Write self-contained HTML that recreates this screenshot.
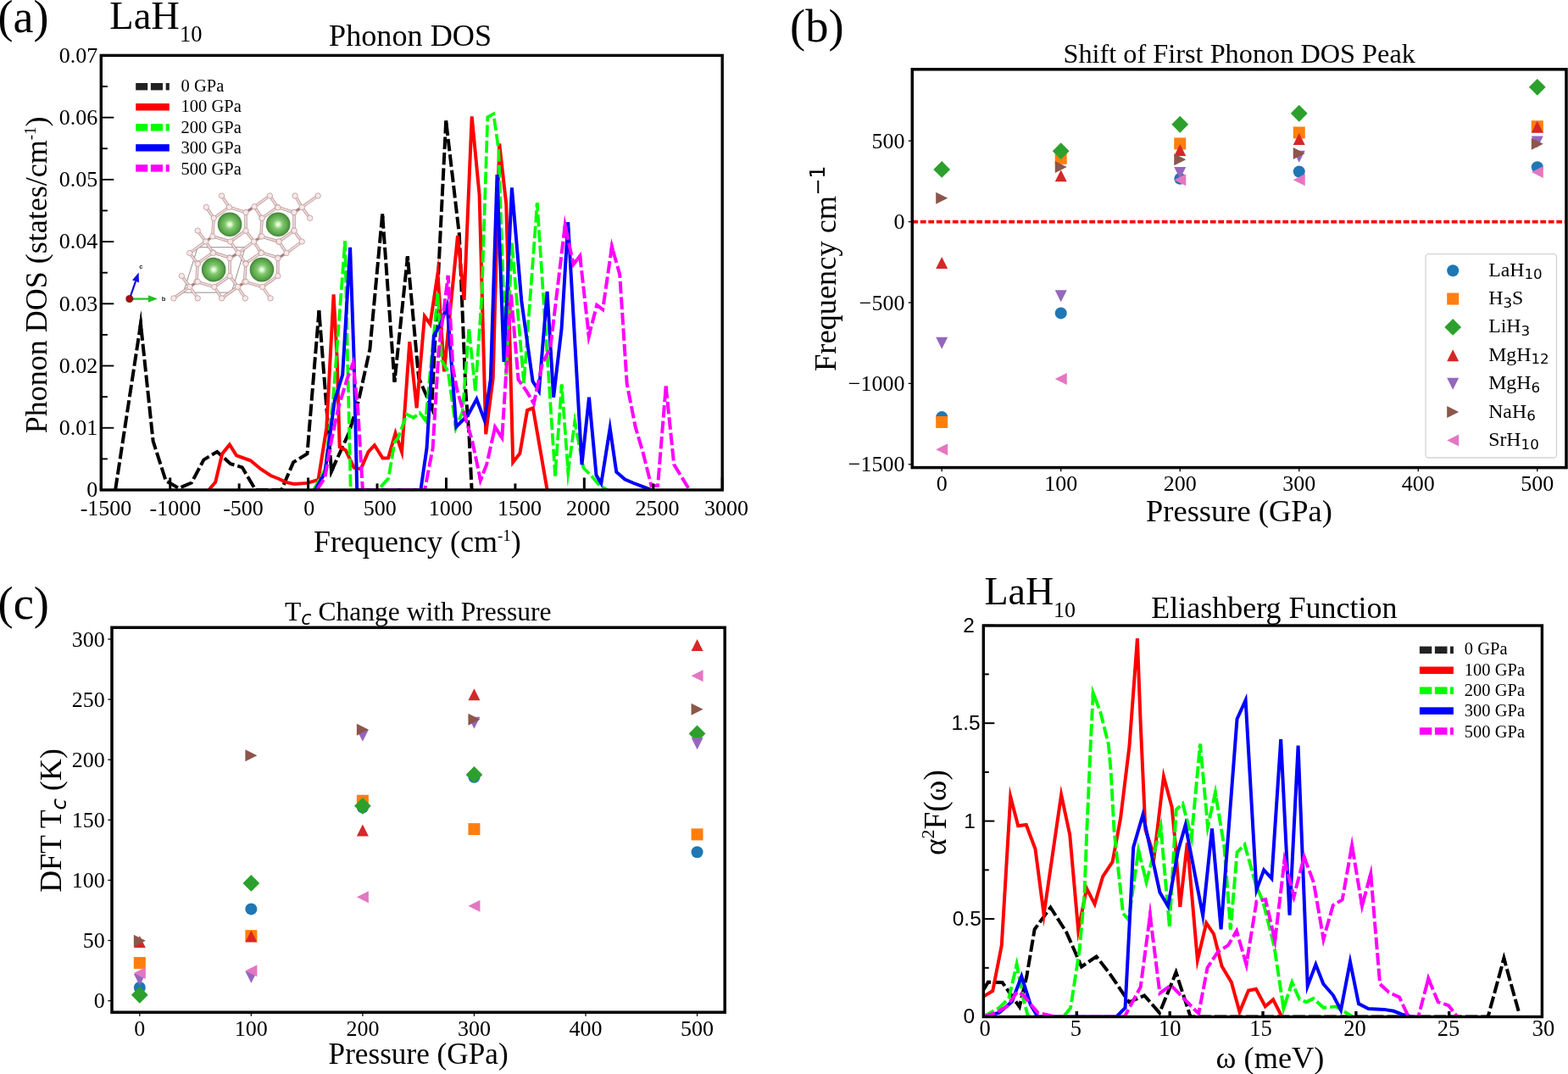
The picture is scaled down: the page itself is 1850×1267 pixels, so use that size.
<!DOCTYPE html>
<html><head><meta charset="utf-8"><title>LaH10 phonon figure</title>
<style>html,body{margin:0;padding:0;background:#fff;overflow:hidden}svg{display:block}</style>
</head><body>
<svg width="1850" height="1267" viewBox="0 0 1850 1267">
<rect x="0" y="0" width="1850" height="1267" fill="#fff"/>
<g id="panel-a">
<clipPath id="clipA"><rect x="119.3" y="45.4" width="732.9" height="532.6"/></clipPath>
<g clip-path="url(#clipA)">
<polyline points="136.1,578 166.02,382.06 180.61,520.4 195.83,567.59 203.3,571.5 210.92,575.94 225.92,569.51 240.45,542.35 256.15,532.92 272.03,547.15 285.71,551.32 301.5,578 332.1,578 346.08,545.37 362.49,535.27 376.4,366.5 391.09,555.83 411.8,510.4 423.1,472.5 436.4,411.9 451.2,252.5 465.5,450.6 480.9,302.5 494.02,445.9 509.35,480.93 526.2,142.3 541.9,277 549.5,463 553.3,510 556.6,578" fill="none" stroke="#000" stroke-width="4" stroke-linejoin="miter" stroke-miterlimit="10" stroke-dasharray="14.5 4" />
<polyline points="165.27,387 166.02,382.06 166.55,387.03" fill="none" stroke="#000" stroke-width="4" stroke-linejoin="miter" stroke-miterlimit="10"/>
<polyline points="375.99,371.48 376.4,366.5 376.79,371.49" fill="none" stroke="#000" stroke-width="4" stroke-linejoin="miter" stroke-miterlimit="10"/>
<polyline points="390.7,550.85 391.09,555.83 393.16,551.28" fill="none" stroke="#000" stroke-width="4" stroke-linejoin="miter" stroke-miterlimit="10"/>
<polyline points="450.74,257.48 451.2,252.5 451.56,257.49" fill="none" stroke="#000" stroke-width="4" stroke-linejoin="miter" stroke-miterlimit="10"/>
<polyline points="465.14,445.61 465.5,450.6 466.02,445.63" fill="none" stroke="#000" stroke-width="4" stroke-linejoin="miter" stroke-miterlimit="10"/>
<polyline points="480.38,307.47 480.9,302.5 481.36,307.48" fill="none" stroke="#000" stroke-width="4" stroke-linejoin="miter" stroke-miterlimit="10"/>
<polyline points="507.35,476.35 509.35,480.93 509.6,475.94" fill="none" stroke="#000" stroke-width="4" stroke-linejoin="miter" stroke-miterlimit="10"/>
<polyline points="525.95,147.29 526.2,142.3 526.78,147.27" fill="none" stroke="#000" stroke-width="4" stroke-linejoin="miter" stroke-miterlimit="10"/>
<polyline points="246.3,578 254.15,568.87 262.13,535.41 270.89,524.43 278.99,537.29 295.58,543.33 307.5,553.2 319.3,560.99 329.2,565 337.11,568.88 346.9,570.88 362.7,569.89 375.52,565.95 385.3,504.7 393.6,347.3 397.6,421.4 400.68,527.22 407.91,531.28 417.65,551.82 425.71,553.35 434.52,533.11 441.86,525.23 451.47,540.42 458.04,540.26 466.57,510.84 474.08,533.08 483.3,403.2 491.6,481.4 500.94,373.1 507.48,382.28 516.5,322.5 524,438.4 540,278 547.6,353.8 556.7,137.4 565.6,229.8 573.2,512.2 581.7,446 589.2,169.6 597.3,241.1 605.22,545.32 613.36,534.99 622.09,484.04 628.87,481.25 645.6,578" fill="none" stroke="#ff0000" stroke-width="4" stroke-linejoin="miter" stroke-miterlimit="10" />
<polyline points="370.1,578 383.37,553.89 392.9,472.5 407.1,284.3 409.9,415.7 413.7,578 445.9,578 458.33,564.36 465.56,521.72 469.98,515.99 479.89,488.74 487.95,492.76 495.38,487.09 502.17,495.99 516.5,346.4 521.15,425.19 528.66,438.41 537.88,504.67 545.69,485.8 553.3,388.3 560.9,461.1 568.4,350 575.31,138.12 582.3,134.38 588.3,176.8 597.3,442.2 603.9,286.6 618.1,451.7 633.8,239.3 655,561.5 662.7,453.6 670.3,556.2 678.2,498.04 688.39,551.96 697.9,561.5 707.32,572.77 716.8,578" fill="none" stroke="#00ff00" stroke-width="3.7" stroke-linejoin="miter" stroke-miterlimit="10" stroke-dasharray="14.5 4" />
<polyline points="406.72,289.29 407.1,284.3 407.21,289.3" fill="none" stroke="#00ff00" stroke-width="3.7" stroke-linejoin="miter" stroke-miterlimit="10"/>
<polyline points="499.14,492.02 502.17,495.99 502.65,491.02" fill="none" stroke="#00ff00" stroke-width="3.7" stroke-linejoin="miter" stroke-miterlimit="10"/>
<polyline points="516.02,351.38 516.5,346.4 516.79,351.39" fill="none" stroke="#00ff00" stroke-width="3.7" stroke-linejoin="miter" stroke-miterlimit="10"/>
<polyline points="537.2,499.71 537.88,504.67 539.8,500.05" fill="none" stroke="#00ff00" stroke-width="3.7" stroke-linejoin="miter" stroke-miterlimit="10"/>
<polyline points="552.91,393.28 553.3,388.3 553.82,393.27" fill="none" stroke="#00ff00" stroke-width="3.7" stroke-linejoin="miter" stroke-miterlimit="10"/>
<polyline points="560.38,456.13 560.9,461.1 561.24,456.11" fill="none" stroke="#00ff00" stroke-width="3.7" stroke-linejoin="miter" stroke-miterlimit="10"/>
<polyline points="597.13,437.2 597.3,442.2 597.51,437.2" fill="none" stroke="#00ff00" stroke-width="3.7" stroke-linejoin="miter" stroke-miterlimit="10"/>
<polyline points="603.69,291.6 603.9,286.6 604.33,291.58" fill="none" stroke="#00ff00" stroke-width="3.7" stroke-linejoin="miter" stroke-miterlimit="10"/>
<polyline points="617.67,446.72 618.1,451.7 618.47,446.71" fill="none" stroke="#00ff00" stroke-width="3.7" stroke-linejoin="miter" stroke-miterlimit="10"/>
<polyline points="633.43,244.29 633.8,239.3 634.13,244.29" fill="none" stroke="#00ff00" stroke-width="3.7" stroke-linejoin="miter" stroke-miterlimit="10"/>
<polyline points="654.67,556.51 655,561.5 655.36,556.51" fill="none" stroke="#00ff00" stroke-width="3.7" stroke-linejoin="miter" stroke-miterlimit="10"/>
<polyline points="662.34,458.59 662.7,453.6 663.07,458.59" fill="none" stroke="#00ff00" stroke-width="3.7" stroke-linejoin="miter" stroke-miterlimit="10"/>
<polyline points="669.93,551.21 670.3,556.2 670.97,551.25" fill="none" stroke="#00ff00" stroke-width="3.7" stroke-linejoin="miter" stroke-miterlimit="10"/>
<polyline points="677.52,502.99 678.2,498.04 679.12,502.95" fill="none" stroke="#00ff00" stroke-width="3.7" stroke-linejoin="miter" stroke-miterlimit="10"/>
<polyline points="372,578 383.37,557.69 394.81,472.5 404.19,442.2 413.1,291.9 417.5,419.5 421.2,578 496.4,578 503.5,528.8 511.85,396.12 519.98,381.89 527.59,360.48 538.28,503.51 552.28,489.49 562.33,470.82 571.61,495.59 578.8,447.9 586.5,206.1 594.5,427 603.9,221.3 615.3,355 628.53,449.79 635.91,461.32 645.6,343.8 653.1,468.7 662.6,387.3 670.2,262 686.5,548.2 695,468.7 703.52,560.49 709.33,570.23 719.7,505.06 727.24,556.83 737.31,565.48 747.7,570 768.7,578" fill="none" stroke="#0000ff" stroke-width="4" stroke-linejoin="miter" stroke-miterlimit="10" />
<polyline points="373.9,578 383.36,563.38 391,519.8 399.5,480 409.9,446 416.55,428.8 422.2,482 427.9,578 501.1,578 510.6,528.8 517.7,412.7 528.7,325 534.41,434.6 540,463 547.6,487.6 557.1,519.8 566.9,566.31 574.1,548.2 584.09,504.05 592.32,516.46 603,347.6 611.57,447.87 620.99,461.1 629.81,475.74 639.92,429.01 649.37,409.99 666.66,265.55 676.61,311.8 684.25,302 694.78,396.14 704.2,359.92 711.18,365.07 721.92,291.04 731.19,323.6 739.7,452.8 749.7,503.8 758.2,532.2 768.44,572.97 776.11,572.87 785.7,455.6 795.15,547.78 813.5,578" fill="none" stroke="#ff00ff" stroke-width="4" stroke-linejoin="miter" stroke-miterlimit="10" stroke-dasharray="14.5 4" />
<polyline points="414.74,433.46 416.55,428.8 417.08,433.77" fill="none" stroke="#ff00ff" stroke-width="4" stroke-linejoin="miter" stroke-miterlimit="10"/>
<polyline points="528.08,329.96 528.7,325 528.96,329.99" fill="none" stroke="#ff00ff" stroke-width="4" stroke-linejoin="miter" stroke-miterlimit="10"/>
<polyline points="565.87,561.42 566.9,566.31 568.75,561.67" fill="none" stroke="#ff00ff" stroke-width="4" stroke-linejoin="miter" stroke-miterlimit="10"/>
<polyline points="582.98,508.93 584.09,504.05 586.85,508.22" fill="none" stroke="#ff00ff" stroke-width="4" stroke-linejoin="miter" stroke-miterlimit="10"/>
<polyline points="589.55,512.29 592.32,516.46 592.63,511.47" fill="none" stroke="#ff00ff" stroke-width="4" stroke-linejoin="miter" stroke-miterlimit="10"/>
<polyline points="602.68,352.59 603,347.6 603.43,352.58" fill="none" stroke="#ff00ff" stroke-width="4" stroke-linejoin="miter" stroke-miterlimit="10"/>
<polyline points="627.23,471.45 629.81,475.74 630.86,470.85" fill="none" stroke="#ff00ff" stroke-width="4" stroke-linejoin="miter" stroke-miterlimit="10"/>
<polyline points="666.07,270.52 666.66,265.55 667.71,270.44" fill="none" stroke="#ff00ff" stroke-width="4" stroke-linejoin="miter" stroke-miterlimit="10"/>
<polyline points="681.18,305.94 684.25,302 684.81,306.97" fill="none" stroke="#ff00ff" stroke-width="4" stroke-linejoin="miter" stroke-miterlimit="10"/>
<polyline points="694.23,391.17 694.78,396.14 696.04,391.3" fill="none" stroke="#ff00ff" stroke-width="4" stroke-linejoin="miter" stroke-miterlimit="10"/>
<polyline points="721.2,295.99 721.92,291.04 723.29,295.85" fill="none" stroke="#ff00ff" stroke-width="4" stroke-linejoin="miter" stroke-miterlimit="10"/>
<polyline points="785.29,460.58 785.7,455.6 786.21,460.57" fill="none" stroke="#ff00ff" stroke-width="4" stroke-linejoin="miter" stroke-miterlimit="10"/>
</g>
<line x1="119.3" y1="578" x2="134.3" y2="578" stroke="#000" stroke-width="1.9" />
<line x1="119.3" y1="541.39" x2="126.9" y2="541.39" stroke="#000" stroke-width="1.9" />
<line x1="119.3" y1="504.77" x2="134.3" y2="504.77" stroke="#000" stroke-width="1.9" />
<line x1="119.3" y1="468.16" x2="126.9" y2="468.16" stroke="#000" stroke-width="1.9" />
<line x1="119.3" y1="431.54" x2="134.3" y2="431.54" stroke="#000" stroke-width="1.9" />
<line x1="119.3" y1="394.93" x2="126.9" y2="394.93" stroke="#000" stroke-width="1.9" />
<line x1="119.3" y1="358.31" x2="134.3" y2="358.31" stroke="#000" stroke-width="1.9" />
<line x1="119.3" y1="321.7" x2="126.9" y2="321.7" stroke="#000" stroke-width="1.9" />
<line x1="119.3" y1="285.09" x2="134.3" y2="285.09" stroke="#000" stroke-width="1.9" />
<line x1="119.3" y1="248.47" x2="126.9" y2="248.47" stroke="#000" stroke-width="1.9" />
<line x1="119.3" y1="211.86" x2="134.3" y2="211.86" stroke="#000" stroke-width="1.9" />
<line x1="119.3" y1="175.24" x2="126.9" y2="175.24" stroke="#000" stroke-width="1.9" />
<line x1="119.3" y1="138.63" x2="134.3" y2="138.63" stroke="#000" stroke-width="1.9" />
<line x1="119.3" y1="102.01" x2="126.9" y2="102.01" stroke="#000" stroke-width="1.9" />
<line x1="119.3" y1="65.4" x2="134.3" y2="65.4" stroke="#000" stroke-width="1.9" />
<line x1="119.3" y1="578" x2="119.3" y2="570.4" stroke="#000" stroke-width="3" />
<line x1="200.73" y1="578" x2="200.73" y2="563.5" stroke="#000" stroke-width="3" />
<line x1="282.17" y1="578" x2="282.17" y2="570.4" stroke="#000" stroke-width="3" />
<line x1="363.6" y1="578" x2="363.6" y2="563.5" stroke="#000" stroke-width="3" />
<line x1="445.03" y1="578" x2="445.03" y2="570.4" stroke="#000" stroke-width="3" />
<line x1="526.47" y1="578" x2="526.47" y2="563.5" stroke="#000" stroke-width="3" />
<line x1="607.9" y1="578" x2="607.9" y2="570.4" stroke="#000" stroke-width="3" />
<line x1="689.33" y1="578" x2="689.33" y2="563.5" stroke="#000" stroke-width="3" />
<line x1="770.77" y1="578" x2="770.77" y2="570.4" stroke="#000" stroke-width="3" />
<line x1="852.2" y1="578" x2="852.2" y2="563.5" stroke="#000" stroke-width="3" />
<rect x="119.3" y="65.4" width="732.9" height="512.6" fill="none" stroke="#000" stroke-width="3.4" />
<text x="115.2" y="586.4" font-size="26" font-family="'Liberation Serif', 'Times New Roman', serif" text-anchor="end" >0</text>
<text x="115.2" y="513.17" font-size="26" font-family="'Liberation Serif', 'Times New Roman', serif" text-anchor="end" >0.01</text>
<text x="115.2" y="439.94" font-size="26" font-family="'Liberation Serif', 'Times New Roman', serif" text-anchor="end" >0.02</text>
<text x="115.2" y="366.71" font-size="26" font-family="'Liberation Serif', 'Times New Roman', serif" text-anchor="end" >0.03</text>
<text x="115.2" y="293.49" font-size="26" font-family="'Liberation Serif', 'Times New Roman', serif" text-anchor="end" >0.04</text>
<text x="115.2" y="220.26" font-size="26" font-family="'Liberation Serif', 'Times New Roman', serif" text-anchor="end" >0.05</text>
<text x="115.2" y="147.03" font-size="26" font-family="'Liberation Serif', 'Times New Roman', serif" text-anchor="end" >0.06</text>
<text x="115.2" y="73.8" font-size="26" font-family="'Liberation Serif', 'Times New Roman', serif" text-anchor="end" >0.07</text>
<text x="125" y="607.6" font-size="26" font-family="'Liberation Serif', 'Times New Roman', serif" text-anchor="middle" >-1500</text>
<text x="206.93" y="607.6" font-size="26" font-family="'Liberation Serif', 'Times New Roman', serif" text-anchor="middle" >-1000</text>
<text x="286.97" y="607.6" font-size="26" font-family="'Liberation Serif', 'Times New Roman', serif" text-anchor="middle" >-500</text>
<text x="364.8" y="607.6" font-size="26" font-family="'Liberation Serif', 'Times New Roman', serif" text-anchor="middle" >0</text>
<text x="448.23" y="607.6" font-size="26" font-family="'Liberation Serif', 'Times New Roman', serif" text-anchor="middle" >500</text>
<text x="531.67" y="607.6" font-size="26" font-family="'Liberation Serif', 'Times New Roman', serif" text-anchor="middle" >1000</text>
<text x="613.1" y="607.6" font-size="26" font-family="'Liberation Serif', 'Times New Roman', serif" text-anchor="middle" >1500</text>
<text x="694.03" y="607.6" font-size="26" font-family="'Liberation Serif', 'Times New Roman', serif" text-anchor="middle" >2000</text>
<text x="775.47" y="607.6" font-size="26" font-family="'Liberation Serif', 'Times New Roman', serif" text-anchor="middle" >2500</text>
<text x="856.9" y="607.6" font-size="26" font-family="'Liberation Serif', 'Times New Roman', serif" text-anchor="middle" >3000</text>
<text x="370" y="650.6" font-size="36" font-family="'Liberation Serif', 'Times New Roman', serif" text-anchor="start" >Frequency (cm<tspan dy="-13" font-size="19">-1</tspan><tspan dy="13">)</tspan></text>
<text x="54.7" y="324.4" font-size="36" font-family="'Liberation Serif', 'Times New Roman', serif" text-anchor="middle" transform="rotate(-90 54.7 324.4)">Phonon DOS (states/cm<tspan dy="-13" font-size="19">-1</tspan><tspan dy="13">)</tspan></text>
<text x="-2.5" y="37.8" font-size="54" font-family="'Liberation Serif', 'Times New Roman', serif" text-anchor="start" >(a)</text>
<text x="129.3" y="33.7" font-size="46.5" font-family="'Liberation Serif', 'Times New Roman', serif" text-anchor="start" >LaH</text>
<text x="212" y="48.6" font-size="26.5" font-family="'Liberation Serif', 'Times New Roman', serif" text-anchor="start" >10</text>
<text x="388" y="53.5" font-size="36.2" font-family="'Liberation Serif', 'Times New Roman', serif" text-anchor="start" >Phonon DOS</text>
<rect x="160.2" y="98" width="14" height="8.4" fill="#222"/>
<rect x="177.9" y="98" width="14.1" height="8.4" fill="#222"/>
<rect x="195.7" y="98" width="4.1" height="8.4" fill="#222"/>
<text x="213.6" y="107.9" font-size="20.5" font-family="'Liberation Serif', 'Times New Roman', serif" text-anchor="start" >0 GPa</text>
<rect x="160.2" y="122.05" width="39.6" height="8.4" fill="#ff0000"/>
<text x="213.6" y="132.3" font-size="20.5" font-family="'Liberation Serif', 'Times New Roman', serif" text-anchor="start" >100 GPa</text>
<rect x="160.2" y="146.1" width="14" height="8.4" fill="#00ff00"/>
<rect x="177.9" y="146.1" width="14.1" height="8.4" fill="#00ff00"/>
<rect x="195.7" y="146.1" width="4.1" height="8.4" fill="#00ff00"/>
<text x="213.6" y="156.7" font-size="20.5" font-family="'Liberation Serif', 'Times New Roman', serif" text-anchor="start" >200 GPa</text>
<rect x="160.2" y="170.15" width="39.6" height="8.4" fill="#0000ff"/>
<text x="213.6" y="181.1" font-size="20.5" font-family="'Liberation Serif', 'Times New Roman', serif" text-anchor="start" >300 GPa</text>
<rect x="160.2" y="194.2" width="14" height="8.4" fill="#ff00ff"/>
<rect x="177.9" y="194.2" width="14.1" height="8.4" fill="#ff00ff"/>
<rect x="195.7" y="194.2" width="4.1" height="8.4" fill="#ff00ff"/>
<text x="213.6" y="205.5" font-size="20.5" font-family="'Liberation Serif', 'Times New Roman', serif" text-anchor="start" >500 GPa</text>
</g>
<defs><radialGradient id="lag" cx="0.5" cy="0.5" r="0.55" fx="0.5" fy="0.5"><stop offset="0" stop-color="#ffffff"/><stop offset="0.13" stop-color="#d6f5c8"/><stop offset="0.35" stop-color="#82c870"/><stop offset="0.75" stop-color="#56a046"/><stop offset="1" stop-color="#33702b"/></radialGradient></defs>
<g id="inset">
<polygon points="233.24,291.76 289.32,291.76 273.11,345.14 216.35,345.14" fill="none" stroke="#707070" stroke-width="0.8"/>
<line x1="252.16" y1="257.3" x2="270.41" y2="244.46" stroke="#b89696" stroke-width="3.4" />
<line x1="270.41" y1="244.46" x2="290" y2="250.54" stroke="#b89696" stroke-width="3.4" />
<line x1="290" y1="250.54" x2="290" y2="272.16" stroke="#b89696" stroke-width="3.4" />
<line x1="290" y1="272.16" x2="271.76" y2="285" stroke="#b89696" stroke-width="3.4" />
<line x1="271.76" y1="285" x2="250.81" y2="278.92" stroke="#b89696" stroke-width="3.4" />
<line x1="250.81" y1="278.92" x2="252.16" y2="257.3" stroke="#b89696" stroke-width="3.4" />
<line x1="309.19" y1="257.3" x2="327.43" y2="244.46" stroke="#b89696" stroke-width="3.4" />
<line x1="327.43" y1="244.46" x2="347.03" y2="250.54" stroke="#b89696" stroke-width="3.4" />
<line x1="347.03" y1="250.54" x2="347.03" y2="272.16" stroke="#b89696" stroke-width="3.4" />
<line x1="347.03" y1="272.16" x2="328.78" y2="285" stroke="#b89696" stroke-width="3.4" />
<line x1="328.78" y1="285" x2="307.84" y2="278.92" stroke="#b89696" stroke-width="3.4" />
<line x1="307.84" y1="278.92" x2="309.19" y2="257.3" stroke="#b89696" stroke-width="3.4" />
<line x1="233.24" y1="310.68" x2="251.49" y2="297.84" stroke="#b89696" stroke-width="3.4" />
<line x1="251.49" y1="297.84" x2="271.08" y2="303.92" stroke="#b89696" stroke-width="3.4" />
<line x1="271.08" y1="303.92" x2="271.08" y2="325.54" stroke="#b89696" stroke-width="3.4" />
<line x1="271.08" y1="325.54" x2="252.84" y2="338.38" stroke="#b89696" stroke-width="3.4" />
<line x1="252.84" y1="338.38" x2="231.89" y2="332.3" stroke="#b89696" stroke-width="3.4" />
<line x1="231.89" y1="332.3" x2="233.24" y2="310.68" stroke="#b89696" stroke-width="3.4" />
<line x1="290" y1="310.68" x2="308.24" y2="297.84" stroke="#b89696" stroke-width="3.4" />
<line x1="308.24" y1="297.84" x2="327.84" y2="303.92" stroke="#b89696" stroke-width="3.4" />
<line x1="327.84" y1="303.92" x2="327.84" y2="325.54" stroke="#b89696" stroke-width="3.4" />
<line x1="327.84" y1="325.54" x2="309.59" y2="338.38" stroke="#b89696" stroke-width="3.4" />
<line x1="309.59" y1="338.38" x2="288.65" y2="332.3" stroke="#b89696" stroke-width="3.4" />
<line x1="288.65" y1="332.3" x2="290" y2="310.68" stroke="#b89696" stroke-width="3.4" />
<line x1="261.62" y1="230.95" x2="270.41" y2="244.46" stroke="#b89696" stroke-width="3.4" />
<line x1="243.38" y1="244.46" x2="252.16" y2="257.3" stroke="#b89696" stroke-width="3.4" />
<line x1="290" y1="250.54" x2="300.14" y2="243.78" stroke="#b89696" stroke-width="3.4" />
<line x1="300.14" y1="243.78" x2="318.38" y2="230.95" stroke="#b89696" stroke-width="3.4" />
<line x1="300.14" y1="243.78" x2="308.92" y2="257.3" stroke="#b89696" stroke-width="3.4" />
<line x1="318.38" y1="230.95" x2="327.84" y2="244.86" stroke="#b89696" stroke-width="3.4" />
<line x1="346.76" y1="250.54" x2="356.22" y2="244.46" stroke="#b89696" stroke-width="3.4" />
<line x1="356.22" y1="244.46" x2="348.11" y2="230.95" stroke="#b89696" stroke-width="3.4" />
<line x1="356.22" y1="244.46" x2="375.14" y2="230.95" stroke="#b89696" stroke-width="3.4" />
<line x1="356.22" y1="244.46" x2="365.68" y2="257.3" stroke="#b89696" stroke-width="3.4" />
<line x1="233.24" y1="272.16" x2="242.7" y2="285" stroke="#b89696" stroke-width="3.4" />
<line x1="250.81" y1="278.92" x2="242.7" y2="285" stroke="#b89696" stroke-width="3.4" />
<line x1="242.7" y1="285" x2="223.78" y2="298.51" stroke="#b89696" stroke-width="3.4" />
<line x1="242.7" y1="285" x2="251.49" y2="298.51" stroke="#b89696" stroke-width="3.4" />
<line x1="271.76" y1="285" x2="281.22" y2="298.51" stroke="#b89696" stroke-width="3.4" />
<line x1="290" y1="272.16" x2="299.46" y2="285" stroke="#b89696" stroke-width="3.4" />
<line x1="308.92" y1="278.92" x2="299.46" y2="285" stroke="#b89696" stroke-width="3.4" />
<line x1="299.46" y1="285" x2="281.22" y2="298.51" stroke="#b89696" stroke-width="3.4" />
<line x1="299.46" y1="285" x2="308.24" y2="298.51" stroke="#b89696" stroke-width="3.4" />
<line x1="329.19" y1="285" x2="337.97" y2="298.51" stroke="#b89696" stroke-width="3.4" />
<line x1="346.76" y1="272.16" x2="356.22" y2="285" stroke="#b89696" stroke-width="3.4" />
<line x1="356.22" y1="285" x2="337.97" y2="298.51" stroke="#b89696" stroke-width="3.4" />
<line x1="223.78" y1="298.51" x2="233.24" y2="311.35" stroke="#b89696" stroke-width="3.4" />
<line x1="271.08" y1="304.59" x2="281.22" y2="298.51" stroke="#b89696" stroke-width="3.4" />
<line x1="281.22" y1="298.51" x2="290" y2="311.35" stroke="#b89696" stroke-width="3.4" />
<line x1="327.84" y1="304.59" x2="337.97" y2="298.51" stroke="#b89696" stroke-width="3.4" />
<line x1="214.32" y1="325.54" x2="223.78" y2="338.38" stroke="#b89696" stroke-width="3.4" />
<line x1="233.24" y1="332.3" x2="223.78" y2="338.38" stroke="#b89696" stroke-width="3.4" />
<line x1="223.78" y1="338.38" x2="204.86" y2="351.89" stroke="#b89696" stroke-width="3.4" />
<line x1="223.78" y1="338.38" x2="233.24" y2="351.89" stroke="#b89696" stroke-width="3.4" />
<line x1="252.84" y1="338.38" x2="261.62" y2="351.89" stroke="#b89696" stroke-width="3.4" />
<line x1="271.08" y1="325.54" x2="280.54" y2="338.38" stroke="#b89696" stroke-width="3.4" />
<line x1="290" y1="332.3" x2="280.54" y2="338.38" stroke="#b89696" stroke-width="3.4" />
<line x1="280.54" y1="338.38" x2="261.62" y2="351.89" stroke="#b89696" stroke-width="3.4" />
<line x1="280.54" y1="338.38" x2="289.32" y2="351.89" stroke="#b89696" stroke-width="3.4" />
<line x1="309.59" y1="338.38" x2="319.05" y2="351.89" stroke="#b89696" stroke-width="3.4" />
<line x1="252.16" y1="257.3" x2="270.41" y2="244.46" stroke="#f2dcdc" stroke-width="1.8" />
<line x1="270.41" y1="244.46" x2="290" y2="250.54" stroke="#f2dcdc" stroke-width="1.8" />
<line x1="290" y1="250.54" x2="290" y2="272.16" stroke="#f2dcdc" stroke-width="1.8" />
<line x1="290" y1="272.16" x2="271.76" y2="285" stroke="#f2dcdc" stroke-width="1.8" />
<line x1="271.76" y1="285" x2="250.81" y2="278.92" stroke="#f2dcdc" stroke-width="1.8" />
<line x1="250.81" y1="278.92" x2="252.16" y2="257.3" stroke="#f2dcdc" stroke-width="1.8" />
<line x1="309.19" y1="257.3" x2="327.43" y2="244.46" stroke="#f2dcdc" stroke-width="1.8" />
<line x1="327.43" y1="244.46" x2="347.03" y2="250.54" stroke="#f2dcdc" stroke-width="1.8" />
<line x1="347.03" y1="250.54" x2="347.03" y2="272.16" stroke="#f2dcdc" stroke-width="1.8" />
<line x1="347.03" y1="272.16" x2="328.78" y2="285" stroke="#f2dcdc" stroke-width="1.8" />
<line x1="328.78" y1="285" x2="307.84" y2="278.92" stroke="#f2dcdc" stroke-width="1.8" />
<line x1="307.84" y1="278.92" x2="309.19" y2="257.3" stroke="#f2dcdc" stroke-width="1.8" />
<line x1="233.24" y1="310.68" x2="251.49" y2="297.84" stroke="#f2dcdc" stroke-width="1.8" />
<line x1="251.49" y1="297.84" x2="271.08" y2="303.92" stroke="#f2dcdc" stroke-width="1.8" />
<line x1="271.08" y1="303.92" x2="271.08" y2="325.54" stroke="#f2dcdc" stroke-width="1.8" />
<line x1="271.08" y1="325.54" x2="252.84" y2="338.38" stroke="#f2dcdc" stroke-width="1.8" />
<line x1="252.84" y1="338.38" x2="231.89" y2="332.3" stroke="#f2dcdc" stroke-width="1.8" />
<line x1="231.89" y1="332.3" x2="233.24" y2="310.68" stroke="#f2dcdc" stroke-width="1.8" />
<line x1="290" y1="310.68" x2="308.24" y2="297.84" stroke="#f2dcdc" stroke-width="1.8" />
<line x1="308.24" y1="297.84" x2="327.84" y2="303.92" stroke="#f2dcdc" stroke-width="1.8" />
<line x1="327.84" y1="303.92" x2="327.84" y2="325.54" stroke="#f2dcdc" stroke-width="1.8" />
<line x1="327.84" y1="325.54" x2="309.59" y2="338.38" stroke="#f2dcdc" stroke-width="1.8" />
<line x1="309.59" y1="338.38" x2="288.65" y2="332.3" stroke="#f2dcdc" stroke-width="1.8" />
<line x1="288.65" y1="332.3" x2="290" y2="310.68" stroke="#f2dcdc" stroke-width="1.8" />
<line x1="261.62" y1="230.95" x2="270.41" y2="244.46" stroke="#f2dcdc" stroke-width="1.8" />
<line x1="243.38" y1="244.46" x2="252.16" y2="257.3" stroke="#f2dcdc" stroke-width="1.8" />
<line x1="290" y1="250.54" x2="300.14" y2="243.78" stroke="#a07c7c" stroke-width="1.8" />
<line x1="300.14" y1="243.78" x2="318.38" y2="230.95" stroke="#f2dcdc" stroke-width="1.8" />
<line x1="300.14" y1="243.78" x2="308.92" y2="257.3" stroke="#f2dcdc" stroke-width="1.8" />
<line x1="318.38" y1="230.95" x2="327.84" y2="244.86" stroke="#f2dcdc" stroke-width="1.8" />
<line x1="346.76" y1="250.54" x2="356.22" y2="244.46" stroke="#a07c7c" stroke-width="1.8" />
<line x1="356.22" y1="244.46" x2="348.11" y2="230.95" stroke="#f2dcdc" stroke-width="1.8" />
<line x1="356.22" y1="244.46" x2="375.14" y2="230.95" stroke="#f2dcdc" stroke-width="1.8" />
<line x1="356.22" y1="244.46" x2="365.68" y2="257.3" stroke="#f2dcdc" stroke-width="1.8" />
<line x1="233.24" y1="272.16" x2="242.7" y2="285" stroke="#f2dcdc" stroke-width="1.8" />
<line x1="250.81" y1="278.92" x2="242.7" y2="285" stroke="#a07c7c" stroke-width="1.8" />
<line x1="242.7" y1="285" x2="223.78" y2="298.51" stroke="#f2dcdc" stroke-width="1.8" />
<line x1="242.7" y1="285" x2="251.49" y2="298.51" stroke="#f2dcdc" stroke-width="1.8" />
<line x1="271.76" y1="285" x2="281.22" y2="298.51" stroke="#f2dcdc" stroke-width="1.8" />
<line x1="290" y1="272.16" x2="299.46" y2="285" stroke="#f2dcdc" stroke-width="1.8" />
<line x1="308.92" y1="278.92" x2="299.46" y2="285" stroke="#a07c7c" stroke-width="1.8" />
<line x1="299.46" y1="285" x2="281.22" y2="298.51" stroke="#f2dcdc" stroke-width="1.8" />
<line x1="299.46" y1="285" x2="308.24" y2="298.51" stroke="#f2dcdc" stroke-width="1.8" />
<line x1="329.19" y1="285" x2="337.97" y2="298.51" stroke="#f2dcdc" stroke-width="1.8" />
<line x1="346.76" y1="272.16" x2="356.22" y2="285" stroke="#f2dcdc" stroke-width="1.8" />
<line x1="356.22" y1="285" x2="337.97" y2="298.51" stroke="#f2dcdc" stroke-width="1.8" />
<line x1="223.78" y1="298.51" x2="233.24" y2="311.35" stroke="#f2dcdc" stroke-width="1.8" />
<line x1="271.08" y1="304.59" x2="281.22" y2="298.51" stroke="#a07c7c" stroke-width="1.8" />
<line x1="281.22" y1="298.51" x2="290" y2="311.35" stroke="#f2dcdc" stroke-width="1.8" />
<line x1="327.84" y1="304.59" x2="337.97" y2="298.51" stroke="#a07c7c" stroke-width="1.8" />
<line x1="214.32" y1="325.54" x2="223.78" y2="338.38" stroke="#f2dcdc" stroke-width="1.8" />
<line x1="233.24" y1="332.3" x2="223.78" y2="338.38" stroke="#a07c7c" stroke-width="1.8" />
<line x1="223.78" y1="338.38" x2="204.86" y2="351.89" stroke="#f2dcdc" stroke-width="1.8" />
<line x1="223.78" y1="338.38" x2="233.24" y2="351.89" stroke="#f2dcdc" stroke-width="1.8" />
<line x1="252.84" y1="338.38" x2="261.62" y2="351.89" stroke="#f2dcdc" stroke-width="1.8" />
<line x1="271.08" y1="325.54" x2="280.54" y2="338.38" stroke="#f2dcdc" stroke-width="1.8" />
<line x1="290" y1="332.3" x2="280.54" y2="338.38" stroke="#a07c7c" stroke-width="1.8" />
<line x1="280.54" y1="338.38" x2="261.62" y2="351.89" stroke="#f2dcdc" stroke-width="1.8" />
<line x1="280.54" y1="338.38" x2="289.32" y2="351.89" stroke="#f2dcdc" stroke-width="1.8" />
<line x1="309.59" y1="338.38" x2="319.05" y2="351.89" stroke="#f2dcdc" stroke-width="1.8" />
<circle cx="204.86" cy="351.89" r="3.2" fill="#f7e8e8" stroke="#c4a0a0" stroke-width="0.9"/>
<circle cx="214.32" cy="325.54" r="3.2" fill="#f7e8e8" stroke="#c4a0a0" stroke-width="0.9"/>
<circle cx="223.78" cy="298.51" r="3.2" fill="#f7e8e8" stroke="#c4a0a0" stroke-width="0.9"/>
<circle cx="223.78" cy="338.38" r="3.2" fill="#f7e8e8" stroke="#c4a0a0" stroke-width="0.9"/>
<circle cx="231.89" cy="332.3" r="3.2" fill="#f7e8e8" stroke="#c4a0a0" stroke-width="0.9"/>
<circle cx="233.24" cy="272.16" r="3.2" fill="#f7e8e8" stroke="#c4a0a0" stroke-width="0.9"/>
<circle cx="233.24" cy="310.68" r="3.2" fill="#f7e8e8" stroke="#c4a0a0" stroke-width="0.9"/>
<circle cx="233.24" cy="311.35" r="3.2" fill="#f7e8e8" stroke="#c4a0a0" stroke-width="0.9"/>
<circle cx="233.24" cy="332.3" r="3.2" fill="#f7e8e8" stroke="#c4a0a0" stroke-width="0.9"/>
<circle cx="233.24" cy="351.89" r="3.2" fill="#f7e8e8" stroke="#c4a0a0" stroke-width="0.9"/>
<circle cx="242.7" cy="285" r="3.2" fill="#f7e8e8" stroke="#c4a0a0" stroke-width="0.9"/>
<circle cx="243.38" cy="244.46" r="3.2" fill="#f7e8e8" stroke="#c4a0a0" stroke-width="0.9"/>
<circle cx="250.81" cy="278.92" r="3.2" fill="#f7e8e8" stroke="#c4a0a0" stroke-width="0.9"/>
<circle cx="251.49" cy="297.84" r="3.2" fill="#f7e8e8" stroke="#c4a0a0" stroke-width="0.9"/>
<circle cx="251.49" cy="298.51" r="3.2" fill="#f7e8e8" stroke="#c4a0a0" stroke-width="0.9"/>
<circle cx="252.16" cy="257.3" r="3.2" fill="#f7e8e8" stroke="#c4a0a0" stroke-width="0.9"/>
<circle cx="252.84" cy="338.38" r="3.2" fill="#f7e8e8" stroke="#c4a0a0" stroke-width="0.9"/>
<circle cx="261.62" cy="230.95" r="3.2" fill="#f7e8e8" stroke="#c4a0a0" stroke-width="0.9"/>
<circle cx="261.62" cy="351.89" r="3.2" fill="#f7e8e8" stroke="#c4a0a0" stroke-width="0.9"/>
<circle cx="270.41" cy="244.46" r="3.2" fill="#f7e8e8" stroke="#c4a0a0" stroke-width="0.9"/>
<circle cx="271.08" cy="303.92" r="3.2" fill="#f7e8e8" stroke="#c4a0a0" stroke-width="0.9"/>
<circle cx="271.08" cy="304.59" r="3.2" fill="#f7e8e8" stroke="#c4a0a0" stroke-width="0.9"/>
<circle cx="271.08" cy="325.54" r="3.2" fill="#f7e8e8" stroke="#c4a0a0" stroke-width="0.9"/>
<circle cx="271.76" cy="285" r="3.2" fill="#f7e8e8" stroke="#c4a0a0" stroke-width="0.9"/>
<circle cx="280.54" cy="338.38" r="3.2" fill="#f7e8e8" stroke="#c4a0a0" stroke-width="0.9"/>
<circle cx="281.22" cy="298.51" r="3.2" fill="#f7e8e8" stroke="#c4a0a0" stroke-width="0.9"/>
<circle cx="288.65" cy="332.3" r="3.2" fill="#f7e8e8" stroke="#c4a0a0" stroke-width="0.9"/>
<circle cx="289.32" cy="351.89" r="3.2" fill="#f7e8e8" stroke="#c4a0a0" stroke-width="0.9"/>
<circle cx="290" cy="250.54" r="3.2" fill="#f7e8e8" stroke="#c4a0a0" stroke-width="0.9"/>
<circle cx="290" cy="272.16" r="3.2" fill="#f7e8e8" stroke="#c4a0a0" stroke-width="0.9"/>
<circle cx="290" cy="310.68" r="3.2" fill="#f7e8e8" stroke="#c4a0a0" stroke-width="0.9"/>
<circle cx="290" cy="311.35" r="3.2" fill="#f7e8e8" stroke="#c4a0a0" stroke-width="0.9"/>
<circle cx="290" cy="332.3" r="3.2" fill="#f7e8e8" stroke="#c4a0a0" stroke-width="0.9"/>
<circle cx="299.46" cy="285" r="3.2" fill="#f7e8e8" stroke="#c4a0a0" stroke-width="0.9"/>
<circle cx="300.14" cy="243.78" r="3.2" fill="#f7e8e8" stroke="#c4a0a0" stroke-width="0.9"/>
<circle cx="307.84" cy="278.92" r="3.2" fill="#f7e8e8" stroke="#c4a0a0" stroke-width="0.9"/>
<circle cx="308.24" cy="297.84" r="3.2" fill="#f7e8e8" stroke="#c4a0a0" stroke-width="0.9"/>
<circle cx="308.24" cy="298.51" r="3.2" fill="#f7e8e8" stroke="#c4a0a0" stroke-width="0.9"/>
<circle cx="308.92" cy="257.3" r="3.2" fill="#f7e8e8" stroke="#c4a0a0" stroke-width="0.9"/>
<circle cx="308.92" cy="278.92" r="3.2" fill="#f7e8e8" stroke="#c4a0a0" stroke-width="0.9"/>
<circle cx="309.19" cy="257.3" r="3.2" fill="#f7e8e8" stroke="#c4a0a0" stroke-width="0.9"/>
<circle cx="309.59" cy="338.38" r="3.2" fill="#f7e8e8" stroke="#c4a0a0" stroke-width="0.9"/>
<circle cx="318.38" cy="230.95" r="3.2" fill="#f7e8e8" stroke="#c4a0a0" stroke-width="0.9"/>
<circle cx="319.05" cy="351.89" r="3.2" fill="#f7e8e8" stroke="#c4a0a0" stroke-width="0.9"/>
<circle cx="327.43" cy="244.46" r="3.2" fill="#f7e8e8" stroke="#c4a0a0" stroke-width="0.9"/>
<circle cx="327.84" cy="244.86" r="3.2" fill="#f7e8e8" stroke="#c4a0a0" stroke-width="0.9"/>
<circle cx="327.84" cy="303.92" r="3.2" fill="#f7e8e8" stroke="#c4a0a0" stroke-width="0.9"/>
<circle cx="327.84" cy="304.59" r="3.2" fill="#f7e8e8" stroke="#c4a0a0" stroke-width="0.9"/>
<circle cx="327.84" cy="325.54" r="3.2" fill="#f7e8e8" stroke="#c4a0a0" stroke-width="0.9"/>
<circle cx="328.78" cy="285" r="3.2" fill="#f7e8e8" stroke="#c4a0a0" stroke-width="0.9"/>
<circle cx="329.19" cy="285" r="3.2" fill="#f7e8e8" stroke="#c4a0a0" stroke-width="0.9"/>
<circle cx="337.97" cy="298.51" r="3.2" fill="#f7e8e8" stroke="#c4a0a0" stroke-width="0.9"/>
<circle cx="346.76" cy="250.54" r="3.2" fill="#f7e8e8" stroke="#c4a0a0" stroke-width="0.9"/>
<circle cx="346.76" cy="272.16" r="3.2" fill="#f7e8e8" stroke="#c4a0a0" stroke-width="0.9"/>
<circle cx="347.03" cy="250.54" r="3.2" fill="#f7e8e8" stroke="#c4a0a0" stroke-width="0.9"/>
<circle cx="347.03" cy="272.16" r="3.2" fill="#f7e8e8" stroke="#c4a0a0" stroke-width="0.9"/>
<circle cx="348.11" cy="230.95" r="3.2" fill="#f7e8e8" stroke="#c4a0a0" stroke-width="0.9"/>
<circle cx="356.22" cy="244.46" r="3.2" fill="#f7e8e8" stroke="#c4a0a0" stroke-width="0.9"/>
<circle cx="356.22" cy="285" r="3.2" fill="#f7e8e8" stroke="#c4a0a0" stroke-width="0.9"/>
<circle cx="365.68" cy="257.3" r="3.2" fill="#f7e8e8" stroke="#c4a0a0" stroke-width="0.9"/>
<circle cx="375.14" cy="230.95" r="3.2" fill="#f7e8e8" stroke="#c4a0a0" stroke-width="0.9"/>
<circle cx="271.08" cy="264.73" r="14.3" fill="url(#lag)"/>
<circle cx="328.11" cy="264.73" r="14.3" fill="url(#lag)"/>
<circle cx="252.16" cy="318.11" r="14.3" fill="url(#lag)"/>
<circle cx="308.92" cy="318.11" r="14.3" fill="url(#lag)"/>
<line x1="152.84" y1="352.57" x2="176.95" y2="352.57" stroke="#22c022" stroke-width="2.2" />
<polygon points="185.95,352.57 174.95,348.37 174.95,356.77" fill="#22c022"/>
<line x1="152.84" y1="352.57" x2="160.03" y2="331.88" stroke="#1010e0" stroke-width="2.2" />
<polygon points="163.65,321.49 164,333.26 156.07,330.5" fill="#1010e0"/>
<circle cx="152.84" cy="352.57" r="4.1" fill="#a01010" stroke="#600" stroke-width="0.6"/>
<text x="190.68" y="355.27" font-size="7.5" font-family="'Liberation Sans', 'DejaVu Sans', sans-serif" text-anchor="start" font-weight="bold" fill="#222">b</text>
<text x="164.32" y="317.43" font-size="7.5" font-family="'Liberation Sans', 'DejaVu Sans', sans-serif" text-anchor="start" font-weight="bold" fill="#222">c</text>
</g>
<g id="panel-b">
<line x1="1076.3" y1="261.6" x2="1848" y2="261.6" stroke="#ff0000" stroke-width="3.9" stroke-dasharray="6.8 2.7"/>
<circle cx="1111.2" cy="492.09" r="7" fill="#1f77b4"/>
<circle cx="1251.72" cy="369.4" r="7" fill="#1f77b4"/>
<circle cx="1392.24" cy="210.85" r="7" fill="#1f77b4"/>
<circle cx="1532.76" cy="202.45" r="7" fill="#1f77b4"/>
<circle cx="1813.8" cy="197.3" r="7" fill="#1f77b4"/>
<rect x="1104.2" y="491" width="14" height="14" fill="#ff7f0e"/>
<rect x="1244.72" y="179.81" width="14" height="14" fill="#ff7f0e"/>
<rect x="1385.24" y="162.44" width="14" height="14" fill="#ff7f0e"/>
<rect x="1525.76" y="149.47" width="14" height="14" fill="#ff7f0e"/>
<rect x="1806.8" y="142.22" width="14" height="14" fill="#ff7f0e"/>
<polygon points="1111.2,190.07 1121.1,199.97 1111.2,209.87 1101.3,199.97" fill="#2ca02c"/>
<polygon points="1251.72,168.32 1261.62,178.22 1251.72,188.12 1241.82,178.22" fill="#2ca02c"/>
<polygon points="1392.24,136.84 1402.14,146.74 1392.24,156.64 1382.34,146.74" fill="#2ca02c"/>
<polygon points="1532.76,123.86 1542.66,133.76 1532.76,143.66 1522.86,133.76" fill="#2ca02c"/>
<polygon points="1813.8,92.95 1823.7,102.85 1813.8,112.75 1803.9,102.85" fill="#2ca02c"/>
<polygon points="1111.2,303.06 1118.2,317.06 1104.2,317.06" fill="#d62728"/>
<polygon points="1251.72,200.22 1258.72,214.22 1244.72,214.22" fill="#d62728"/>
<polygon points="1392.24,169.88 1399.24,183.88 1385.24,183.88" fill="#d62728"/>
<polygon points="1532.76,157.1 1539.76,171.1 1525.76,171.1" fill="#d62728"/>
<polygon points="1813.8,142.79 1820.8,156.79 1806.8,156.79" fill="#d62728"/>
<polygon points="1111.2,411.7 1118.2,397.7 1104.2,397.7" fill="#9467bd"/>
<polygon points="1251.72,356.18 1258.72,342.18 1244.72,342.18" fill="#9467bd"/>
<polygon points="1392.24,210.98 1399.24,196.98 1385.24,196.98" fill="#9467bd"/>
<polygon points="1532.76,191.71 1539.76,177.71 1525.76,177.71" fill="#9467bd"/>
<polygon points="1813.8,174.54 1820.8,160.54 1806.8,160.54" fill="#9467bd"/>
<polygon points="1118.2,233.74 1104.2,226.74 1104.2,240.74" fill="#8c564b"/>
<polygon points="1258.72,197.11 1244.72,190.11 1244.72,204.11" fill="#8c564b"/>
<polygon points="1399.24,188.14 1385.24,181.14 1385.24,195.14" fill="#8c564b"/>
<polygon points="1539.76,181.08 1525.76,174.08 1525.76,188.08" fill="#8c564b"/>
<polygon points="1820.8,169.83 1806.8,162.83 1806.8,176.83" fill="#8c564b"/>
<polygon points="1104.2,530.25 1118.2,523.25 1118.2,537.25" fill="#e377c2"/>
<polygon points="1244.72,447.06 1258.72,440.06 1258.72,454.06" fill="#e377c2"/>
<polygon points="1385.24,212.37 1399.24,205.37 1399.24,219.37" fill="#e377c2"/>
<polygon points="1525.76,212.37 1539.76,205.37 1539.76,219.37" fill="#e377c2"/>
<polygon points="1806.8,203.02 1820.8,196.02 1820.8,210.02" fill="#e377c2"/>
<line x1="1111.2" y1="551.6" x2="1111.2" y2="556.2" stroke="#000" stroke-width="1.3" />
<text x="1111.2" y="578.7" font-size="26" font-family="'Liberation Serif', 'Times New Roman', serif" text-anchor="middle" >0</text>
<line x1="1251.72" y1="551.6" x2="1251.72" y2="556.2" stroke="#000" stroke-width="1.3" />
<text x="1251.72" y="578.7" font-size="26" font-family="'Liberation Serif', 'Times New Roman', serif" text-anchor="middle" >100</text>
<line x1="1392.24" y1="551.6" x2="1392.24" y2="556.2" stroke="#000" stroke-width="1.3" />
<text x="1392.24" y="578.7" font-size="26" font-family="'Liberation Serif', 'Times New Roman', serif" text-anchor="middle" >200</text>
<line x1="1532.76" y1="551.6" x2="1532.76" y2="556.2" stroke="#000" stroke-width="1.3" />
<text x="1532.76" y="578.7" font-size="26" font-family="'Liberation Serif', 'Times New Roman', serif" text-anchor="middle" >300</text>
<line x1="1673.28" y1="551.6" x2="1673.28" y2="556.2" stroke="#000" stroke-width="1.3" />
<text x="1673.28" y="578.7" font-size="26" font-family="'Liberation Serif', 'Times New Roman', serif" text-anchor="middle" >400</text>
<line x1="1813.8" y1="551.6" x2="1813.8" y2="556.2" stroke="#000" stroke-width="1.3" />
<text x="1813.8" y="578.7" font-size="26" font-family="'Liberation Serif', 'Times New Roman', serif" text-anchor="middle" >500</text>
<line x1="1076.3" y1="547.8" x2="1071.7" y2="547.8" stroke="#000" stroke-width="1.3" />
<text x="1067.4" y="556.4" font-size="26" font-family="'Liberation Serif', 'Times New Roman', serif" text-anchor="end" >−1500</text>
<line x1="1076.3" y1="452.4" x2="1071.7" y2="452.4" stroke="#000" stroke-width="1.3" />
<text x="1067.4" y="461" font-size="26" font-family="'Liberation Serif', 'Times New Roman', serif" text-anchor="end" >−1000</text>
<line x1="1076.3" y1="357" x2="1071.7" y2="357" stroke="#000" stroke-width="1.3" />
<text x="1067.4" y="365.6" font-size="26" font-family="'Liberation Serif', 'Times New Roman', serif" text-anchor="end" >−500</text>
<line x1="1076.3" y1="261.6" x2="1071.7" y2="261.6" stroke="#000" stroke-width="1.3" />
<text x="1067.4" y="270.2" font-size="26" font-family="'Liberation Serif', 'Times New Roman', serif" text-anchor="end" >0</text>
<line x1="1076.3" y1="166.2" x2="1071.7" y2="166.2" stroke="#000" stroke-width="1.3" />
<text x="1067.4" y="174.8" font-size="26" font-family="'Liberation Serif', 'Times New Roman', serif" text-anchor="end" >500</text>
<rect x="1076.3" y="81.8" width="771.7" height="469.8" fill="none" stroke="#000" stroke-width="3.5" />
<rect x="1682" y="299.7" width="154.5" height="240.3" rx="3.5" ry="3.5" fill="#fff" fill-opacity="0.8" stroke="#d3d3d3" stroke-width="1.3"/>
<circle cx="1714.2" cy="319.2" r="7" fill="#1f77b4"/>
<text x="1756.2" y="325.7" font-size="23.8" font-family="'Liberation Serif', 'Times New Roman', serif">LaH<tspan font-family="'DejaVu Sans', 'Liberation Sans', sans-serif" font-size="16.7" dy="3.6">10</tspan></text>
<rect x="1707.2" y="345.57" width="14" height="14" fill="#ff7f0e"/>
<text x="1756.2" y="359.07" font-size="23.8" font-family="'Liberation Serif', 'Times New Roman', serif">H<tspan font-family="'DejaVu Sans', 'Liberation Sans', sans-serif" font-size="16.7" dy="3.6">3</tspan><tspan dy="-3.6">S</tspan></text>
<polygon points="1714.2,376.04 1724.1,385.94 1714.2,395.84 1704.3,385.94" fill="#2ca02c"/>
<text x="1756.2" y="392.44" font-size="23.8" font-family="'Liberation Serif', 'Times New Roman', serif">LiH<tspan font-family="'DejaVu Sans', 'Liberation Sans', sans-serif" font-size="16.7" dy="3.6">3</tspan></text>
<polygon points="1714.2,412.31 1721.2,426.31 1707.2,426.31" fill="#d62728"/>
<text x="1756.2" y="425.81" font-size="23.8" font-family="'Liberation Serif', 'Times New Roman', serif">MgH<tspan font-family="'DejaVu Sans', 'Liberation Sans', sans-serif" font-size="16.7" dy="3.6">12</tspan></text>
<polygon points="1714.2,459.68 1721.2,445.68 1707.2,445.68" fill="#9467bd"/>
<text x="1756.2" y="459.18" font-size="23.8" font-family="'Liberation Serif', 'Times New Roman', serif">MgH<tspan font-family="'DejaVu Sans', 'Liberation Sans', sans-serif" font-size="16.7" dy="3.6">6</tspan></text>
<polygon points="1721.2,486.05 1707.2,479.05 1707.2,493.05" fill="#8c564b"/>
<text x="1756.2" y="492.55" font-size="23.8" font-family="'Liberation Serif', 'Times New Roman', serif">NaH<tspan font-family="'DejaVu Sans', 'Liberation Sans', sans-serif" font-size="16.7" dy="3.6">6</tspan></text>
<polygon points="1707.2,519.42 1721.2,512.42 1721.2,526.42" fill="#e377c2"/>
<text x="1756.2" y="525.92" font-size="23.8" font-family="'Liberation Serif', 'Times New Roman', serif">SrH<tspan font-family="'DejaVu Sans', 'Liberation Sans', sans-serif" font-size="16.7" dy="3.6">10</tspan></text>
<text x="1462.2" y="74.4" font-size="32.3" font-family="'Liberation Serif', 'Times New Roman', serif" text-anchor="middle" >Shift of First Phonon DOS Peak</text>
<text x="1462" y="614.7" font-size="36.5" font-family="'Liberation Serif', 'Times New Roman', serif" text-anchor="middle" >Pressure (GPa)</text>
<text x="986.2" y="316.7" font-size="36.4" font-family="'Liberation Serif', 'Times New Roman', serif" text-anchor="middle" transform="rotate(-90 986.2 316.7)">Frequency cm<tspan font-family="'DejaVu Sans', 'Liberation Sans', sans-serif" font-size="24" dy="-13.5">−1</tspan></text>
<text x="932" y="48.6" font-size="54.5" font-family="'Liberation Serif', 'Times New Roman', serif" text-anchor="start" >(b)</text>
</g>
<g id="panel-c">
<circle cx="164.8" cy="1164.96" r="7" fill="#1f77b4"/>
<circle cx="296.35" cy="1072.39" r="7" fill="#1f77b4"/>
<circle cx="427.9" cy="952.65" r="7" fill="#1f77b4"/>
<circle cx="559.45" cy="916.82" r="7" fill="#1f77b4"/>
<circle cx="822.55" cy="1005.27" r="7" fill="#1f77b4"/>
<rect x="157.8" y="1128.95" width="14" height="14" fill="#ff7f0e"/>
<rect x="289.35" y="1097.1" width="14" height="14" fill="#ff7f0e"/>
<rect x="420.9" y="937.69" width="14" height="14" fill="#ff7f0e"/>
<rect x="552.45" y="971.11" width="14" height="14" fill="#ff7f0e"/>
<rect x="815.55" y="977.36" width="14" height="14" fill="#ff7f0e"/>
<polygon points="164.8,1163.87 174.7,1173.77 164.8,1183.67 154.9,1173.77" fill="#2ca02c"/>
<polygon points="296.35,1032.06 306.25,1041.95 296.35,1051.85 286.45,1041.95" fill="#2ca02c"/>
<polygon points="427.9,940.91 437.8,950.8 427.9,960.7 418,950.8" fill="#2ca02c"/>
<polygon points="559.45,904.08 569.35,913.97 559.45,923.87 549.55,913.97" fill="#2ca02c"/>
<polygon points="822.55,855.59 832.45,865.48 822.55,875.38 812.65,865.48" fill="#2ca02c"/>
<polygon points="164.8,1103.92 171.8,1117.92 157.8,1117.92" fill="#d62728"/>
<polygon points="296.35,1097.38 303.35,1111.38 289.35,1111.38" fill="#d62728"/>
<polygon points="427.9,972.53 434.9,986.53 420.9,986.53" fill="#d62728"/>
<polygon points="559.45,812.27 566.45,826.27 552.45,826.27" fill="#d62728"/>
<polygon points="822.55,753.97 829.55,767.97 815.55,767.97" fill="#d62728"/>
<polygon points="164.8,1162.86 171.8,1148.86 157.8,1148.86" fill="#9467bd"/>
<polygon points="296.35,1159.73 303.35,1145.73 289.35,1145.73" fill="#9467bd"/>
<polygon points="427.9,874.76 434.9,860.76 420.9,860.76" fill="#9467bd"/>
<polygon points="559.45,859.69 566.45,845.69 552.45,845.69" fill="#9467bd"/>
<polygon points="822.55,884.15 829.55,870.15 815.55,870.15" fill="#9467bd"/>
<polygon points="171.8,1109.64 157.8,1102.64 157.8,1116.64" fill="#8c564b"/>
<polygon points="303.35,891.37 289.35,884.37 289.35,898.37" fill="#8c564b"/>
<polygon points="434.9,860.65 420.9,853.65 420.9,867.65" fill="#8c564b"/>
<polygon points="566.45,848.85 552.45,841.85 552.45,855.85" fill="#8c564b"/>
<polygon points="829.55,836.76 815.55,829.76 815.55,843.76" fill="#8c564b"/>
<polygon points="157.8,1147.89 171.8,1140.89 171.8,1154.89" fill="#e377c2"/>
<polygon points="289.35,1145.33 303.35,1138.33 303.35,1152.33" fill="#e377c2"/>
<polygon points="420.9,1058.17 434.9,1051.17 434.9,1065.17" fill="#e377c2"/>
<polygon points="552.45,1068.69 566.45,1061.69 566.45,1075.69" fill="#e377c2"/>
<polygon points="815.55,797.23 829.55,790.23 829.55,804.23" fill="#e377c2"/>
<line x1="164.8" y1="1194.2" x2="164.8" y2="1198.8" stroke="#000" stroke-width="1.3" />
<text x="164.8" y="1221.8" font-size="26" font-family="'Liberation Serif', 'Times New Roman', serif" text-anchor="middle" >0</text>
<line x1="296.35" y1="1194.2" x2="296.35" y2="1198.8" stroke="#000" stroke-width="1.3" />
<text x="296.35" y="1221.8" font-size="26" font-family="'Liberation Serif', 'Times New Roman', serif" text-anchor="middle" >100</text>
<line x1="427.9" y1="1194.2" x2="427.9" y2="1198.8" stroke="#000" stroke-width="1.3" />
<text x="427.9" y="1221.8" font-size="26" font-family="'Liberation Serif', 'Times New Roman', serif" text-anchor="middle" >200</text>
<line x1="559.45" y1="1194.2" x2="559.45" y2="1198.8" stroke="#000" stroke-width="1.3" />
<text x="559.45" y="1221.8" font-size="26" font-family="'Liberation Serif', 'Times New Roman', serif" text-anchor="middle" >300</text>
<line x1="691" y1="1194.2" x2="691" y2="1198.8" stroke="#000" stroke-width="1.3" />
<text x="691" y="1221.8" font-size="26" font-family="'Liberation Serif', 'Times New Roman', serif" text-anchor="middle" >400</text>
<line x1="822.55" y1="1194.2" x2="822.55" y2="1198.8" stroke="#000" stroke-width="1.3" />
<text x="822.55" y="1221.8" font-size="26" font-family="'Liberation Serif', 'Times New Roman', serif" text-anchor="middle" >500</text>
<line x1="132" y1="1180.6" x2="127.4" y2="1180.6" stroke="#000" stroke-width="1.3" />
<text x="123.8" y="1189.2" font-size="26" font-family="'Liberation Serif', 'Times New Roman', serif" text-anchor="end" >0</text>
<line x1="132" y1="1109.5" x2="127.4" y2="1109.5" stroke="#000" stroke-width="1.3" />
<text x="123.8" y="1118.1" font-size="26" font-family="'Liberation Serif', 'Times New Roman', serif" text-anchor="end" >50</text>
<line x1="132" y1="1038.4" x2="127.4" y2="1038.4" stroke="#000" stroke-width="1.3" />
<text x="123.8" y="1047" font-size="26" font-family="'Liberation Serif', 'Times New Roman', serif" text-anchor="end" >100</text>
<line x1="132" y1="967.3" x2="127.4" y2="967.3" stroke="#000" stroke-width="1.3" />
<text x="123.8" y="975.9" font-size="26" font-family="'Liberation Serif', 'Times New Roman', serif" text-anchor="end" >150</text>
<line x1="132" y1="896.2" x2="127.4" y2="896.2" stroke="#000" stroke-width="1.3" />
<text x="123.8" y="904.8" font-size="26" font-family="'Liberation Serif', 'Times New Roman', serif" text-anchor="end" >200</text>
<line x1="132" y1="825.1" x2="127.4" y2="825.1" stroke="#000" stroke-width="1.3" />
<text x="123.8" y="833.7" font-size="26" font-family="'Liberation Serif', 'Times New Roman', serif" text-anchor="end" >250</text>
<line x1="132" y1="754" x2="127.4" y2="754" stroke="#000" stroke-width="1.3" />
<text x="123.8" y="762.6" font-size="26" font-family="'Liberation Serif', 'Times New Roman', serif" text-anchor="end" >300</text>
<rect x="132" y="740.3" width="723.2" height="453.9" fill="none" stroke="#000" stroke-width="3.5" />
<text x="336.0" y="732.4" font-size="31.55" font-family="'Liberation Serif', 'Times New Roman', serif">T<tspan font-family="'DejaVu Sans', 'Liberation Sans', sans-serif" font-style="italic" font-size="22.3" dy="4.6">c</tspan><tspan dy="-4.6"> Change with Pressure</tspan></text>
<text x="493.6" y="1255.4" font-size="35.2" font-family="'Liberation Serif', 'Times New Roman', serif" text-anchor="middle" >Pressure (GPa)</text>
<text x="72.3" y="968" font-size="35.9" font-family="'Liberation Serif', 'Times New Roman', serif" text-anchor="middle" transform="rotate(-90 72.3 968)">DFT T<tspan font-family="'DejaVu Sans', 'Liberation Sans', sans-serif" font-style="italic" font-size="24.5" dy="6">c</tspan><tspan dy="-6"> (K)</tspan></text>
<text x="-2.5" y="730" font-size="54.5" font-family="'Liberation Serif', 'Times New Roman', serif" text-anchor="start" >(c)</text>
</g>
<g id="panel-d">
<clipPath id="clipD"><rect x="1160.3" y="718" width="659.1" height="481.5"/></clipPath>
<g clip-path="url(#clipD)">
<polyline points="1160,1168.2 1165.86,1158.59 1182.57,1159.03 1202.88,1187.74 1211.3,1152 1220.65,1096.32 1239.45,1070.49 1258.4,1100.1 1276.03,1140.43 1293.58,1128.37 1309.8,1149.3 1332.17,1182.35 1350.27,1174.47 1368.08,1194.92 1379.8,1166.3 1387.53,1147.36 1404.6,1199.5 1755.6,1199.5 1774.41,1130.68 1792.4,1195.5" fill="none" stroke="#000" stroke-width="4" stroke-linejoin="miter" stroke-miterlimit="10" stroke-dasharray="14.5 4" />
<polyline points="1385.64,1151.99 1387.53,1147.36 1389.09,1152.11" fill="none" stroke="#000" stroke-width="4" stroke-linejoin="miter" stroke-miterlimit="10"/>
<polyline points="1773.09,1135.5 1774.41,1130.68 1775.75,1135.5" fill="none" stroke="#000" stroke-width="4" stroke-linejoin="miter" stroke-miterlimit="10"/>
<polyline points="1160,1175.8 1171.24,1169.09 1181.8,1115.2 1192.23,939.83 1201.2,974.3 1210.76,972.94 1221.49,1001.6 1231.6,1078.76 1252.12,937.49 1262.2,984.6 1272.21,1097.5 1282.07,1048.11 1291.58,1066.64 1301.23,1033.81 1312.56,1016.78 1322.1,965.2 1332.5,880.1 1341.9,753.2 1345.7,853.6 1351.41,978.9 1361.81,1009.56 1372.96,916.08 1382.6,952 1386.6,994.1 1392.3,1069.8 1400.8,994.1 1412.87,1132.65 1423.29,1088.91 1432.08,1102.01 1441.52,1139.79 1452.88,1158.81 1462.56,1193.75 1473,1168.43 1481.95,1166.79 1492.83,1187.28 1502.16,1179.13 1512.4,1199.5" fill="none" stroke="#ff0000" stroke-width="4" stroke-linejoin="miter" stroke-miterlimit="10" />
<polyline points="1160,1199.5 1178.89,1188.99 1190.22,1177.66 1199.61,1138.01 1207.3,1177.7 1213,1199.5 1254.6,1199.5 1263.13,1188.97 1273.6,1120.9 1279.5,1054.6 1282.3,979.8 1287,872.5 1289.74,817.79 1292.7,825.2 1298.4,840.3 1307.89,878.2 1310.7,910.4 1314.5,979.8 1324.96,1077.38 1331.59,1085.05 1343.24,1003.16 1352.52,1040.27 1369.5,975.7 1379.8,1092.5 1387.71,955.25 1395.44,948.14 1405.79,987.79 1416,877.6 1425.01,974.7 1433.91,935.29 1444.4,998.7 1451.9,1096.3 1459.59,1005.44 1468.49,996.27 1482.21,1045.2 1489.99,1063 1503.3,1116 1514.42,1189.68 1524.33,1159.08 1533.23,1178.87 1541.38,1182.08 1549.63,1177.91 1561.37,1188.8 1576.18,1187.41 1596.1,1199.5" fill="none" stroke="#00ff00" stroke-width="3.9" stroke-linejoin="miter" stroke-miterlimit="10" stroke-dasharray="14.5 4" />
<polyline points="1198.46,1142.87 1199.61,1138.01 1200.56,1142.92" fill="none" stroke="#00ff00" stroke-width="3.9" stroke-linejoin="miter" stroke-miterlimit="10"/>
<polyline points="1289.49,822.78 1289.74,817.79 1291.6,822.43" fill="none" stroke="#00ff00" stroke-width="3.9" stroke-linejoin="miter" stroke-miterlimit="10"/>
<polyline points="1342.54,1008.11 1343.24,1003.16 1344.46,1008.01" fill="none" stroke="#00ff00" stroke-width="3.9" stroke-linejoin="miter" stroke-miterlimit="10"/>
<polyline points="1351.3,1035.42 1352.52,1040.27 1353.79,1035.43" fill="none" stroke="#00ff00" stroke-width="3.9" stroke-linejoin="miter" stroke-miterlimit="10"/>
<polyline points="1368.23,980.54 1369.5,975.7 1369.94,980.68" fill="none" stroke="#00ff00" stroke-width="3.9" stroke-linejoin="miter" stroke-miterlimit="10"/>
<polyline points="1379.36,1087.52 1379.8,1092.5 1380.09,1087.51" fill="none" stroke="#00ff00" stroke-width="3.9" stroke-linejoin="miter" stroke-miterlimit="10"/>
<polyline points="1404.53,982.95 1405.79,987.79 1406.25,982.81" fill="none" stroke="#00ff00" stroke-width="3.9" stroke-linejoin="miter" stroke-miterlimit="10"/>
<polyline points="1415.54,882.58 1416,877.6 1416.46,882.58" fill="none" stroke="#00ff00" stroke-width="3.9" stroke-linejoin="miter" stroke-miterlimit="10"/>
<polyline points="1424.55,969.72 1425.01,974.7 1426.11,969.82" fill="none" stroke="#00ff00" stroke-width="3.9" stroke-linejoin="miter" stroke-miterlimit="10"/>
<polyline points="1432.8,940.16 1433.91,935.29 1434.72,940.22" fill="none" stroke="#00ff00" stroke-width="3.9" stroke-linejoin="miter" stroke-miterlimit="10"/>
<polyline points="1451.52,1091.31 1451.9,1096.3 1452.32,1091.32" fill="none" stroke="#00ff00" stroke-width="3.9" stroke-linejoin="miter" stroke-miterlimit="10"/>
<polyline points="1513.68,1184.73 1514.42,1189.68 1515.96,1184.92" fill="none" stroke="#00ff00" stroke-width="3.9" stroke-linejoin="miter" stroke-miterlimit="10"/>
<polyline points="1522.79,1163.84 1524.33,1159.08 1526.38,1163.64" fill="none" stroke="#00ff00" stroke-width="3.9" stroke-linejoin="miter" stroke-miterlimit="10"/>
<polyline points="1160,1199.5 1178.87,1194.65 1194.04,1181.46 1205.27,1151.56 1215.82,1185.29 1224.4,1199.5 1317.3,1199.5 1327.57,1188.94 1332.5,1092.5 1337.21,999.7 1348.43,961.03 1368.42,1052.79 1378.11,1069.12 1390,1003.5 1398.61,973.41 1419.19,1080.19 1430,977.5 1440.6,1096.3 1459.52,848.3 1469.63,825.91 1482.5,1049.82 1491.2,1026.25 1500.35,1036.35 1511.2,872.1 1521.5,1079.6 1531.6,879.6 1542.72,1163.37 1552.38,1137.86 1561.34,1160.78 1572.88,1174.01 1582.05,1191.71 1592.96,1134.32 1603,1184.05 1614.51,1189.96 1632.9,1190.9 1644.4,1192.81 1654.1,1196.69 1665.7,1199.5" fill="none" stroke="#0000ff" stroke-width="4" stroke-linejoin="miter" stroke-miterlimit="10" />
<polyline points="1160,1199.5 1174.99,1194.99 1188.36,1187.06 1199.98,1170 1207.28,1173.92 1214.9,1183.3 1224.46,1194.61 1245.2,1199.5 1326.8,1199.5 1345.66,1164.39 1356.94,1079.85 1368.39,1171.7 1381.66,1162.37 1411.19,1192.81 1414.3,1195.43 1424.54,1141.72 1436.83,1122.84 1449.04,1115.15 1458.99,1098.4 1470.52,1137.76 1482.51,1063.48 1493.1,1061.08 1504.26,1109.38 1515.54,1015.11 1526.56,1057.36 1538.67,1011.03 1549.89,1040.9 1561.55,1107.64 1572.75,1068.01 1583.71,1061.37 1595.11,997.31 1607.03,1068.93 1617.24,1030.88 1628.14,1160.93 1638.61,1170.58 1651.11,1176.49 1661.8,1199.5 1673.4,1199.5 1685.29,1154.54 1696.76,1182.03 1709.14,1186.18 1719.5,1199.5" fill="none" stroke="#ff00ff" stroke-width="4" stroke-linejoin="miter" stroke-miterlimit="10" stroke-dasharray="14.5 4" />
<polyline points="1356.28,1084.8 1356.94,1079.85 1357.56,1084.81" fill="none" stroke="#ff00ff" stroke-width="4" stroke-linejoin="miter" stroke-miterlimit="10"/>
<polyline points="1456.44,1102.7 1458.99,1098.4 1460.4,1103.2" fill="none" stroke="#ff00ff" stroke-width="4" stroke-linejoin="miter" stroke-miterlimit="10"/>
<polyline points="1469.12,1132.97 1470.52,1137.76 1471.32,1132.83" fill="none" stroke="#ff00ff" stroke-width="4" stroke-linejoin="miter" stroke-miterlimit="10"/>
<polyline points="1503.13,1104.51 1504.26,1109.38 1504.85,1104.42" fill="none" stroke="#ff00ff" stroke-width="4" stroke-linejoin="miter" stroke-miterlimit="10"/>
<polyline points="1514.94,1020.07 1515.54,1015.11 1516.8,1019.94" fill="none" stroke="#ff00ff" stroke-width="4" stroke-linejoin="miter" stroke-miterlimit="10"/>
<polyline points="1525.29,1052.53 1526.56,1057.36 1527.82,1052.53" fill="none" stroke="#ff00ff" stroke-width="4" stroke-linejoin="miter" stroke-miterlimit="10"/>
<polyline points="1537.4,1015.87 1538.67,1011.03 1540.43,1015.71" fill="none" stroke="#ff00ff" stroke-width="4" stroke-linejoin="miter" stroke-miterlimit="10"/>
<polyline points="1560.69,1102.71 1561.55,1107.64 1562.91,1102.83" fill="none" stroke="#ff00ff" stroke-width="4" stroke-linejoin="miter" stroke-miterlimit="10"/>
<polyline points="1594.23,1002.23 1595.11,997.31 1595.93,1002.24" fill="none" stroke="#ff00ff" stroke-width="4" stroke-linejoin="miter" stroke-miterlimit="10"/>
<polyline points="1606.21,1064 1607.03,1068.93 1608.33,1064.1" fill="none" stroke="#ff00ff" stroke-width="4" stroke-linejoin="miter" stroke-miterlimit="10"/>
<polyline points="1615.94,1035.71 1617.24,1030.88 1617.66,1035.86" fill="none" stroke="#ff00ff" stroke-width="4" stroke-linejoin="miter" stroke-miterlimit="10"/>
<polyline points="1684.01,1159.37 1685.29,1154.54 1687.22,1159.15" fill="none" stroke="#ff00ff" stroke-width="4" stroke-linejoin="miter" stroke-miterlimit="10"/>
</g>
<line x1="1160.3" y1="1199.5" x2="1173.3" y2="1199.5" stroke="#000" stroke-width="2" />
<line x1="1160.3" y1="1141.78" x2="1166.8" y2="1141.78" stroke="#000" stroke-width="2" />
<line x1="1160.3" y1="1084.05" x2="1173.3" y2="1084.05" stroke="#000" stroke-width="2" />
<line x1="1160.3" y1="1026.33" x2="1166.8" y2="1026.33" stroke="#000" stroke-width="2" />
<line x1="1160.3" y1="968.6" x2="1173.3" y2="968.6" stroke="#000" stroke-width="2" />
<line x1="1160.3" y1="910.88" x2="1166.8" y2="910.88" stroke="#000" stroke-width="2" />
<line x1="1160.3" y1="853.15" x2="1173.3" y2="853.15" stroke="#000" stroke-width="2" />
<line x1="1160.3" y1="795.42" x2="1166.8" y2="795.42" stroke="#000" stroke-width="2" />
<line x1="1160.3" y1="737.7" x2="1173.3" y2="737.7" stroke="#000" stroke-width="2" />
<line x1="1270.35" y1="1199.5" x2="1270.35" y2="1193" stroke="#000" stroke-width="3.4" />
<line x1="1380.2" y1="1199.5" x2="1380.2" y2="1193" stroke="#000" stroke-width="3.4" />
<line x1="1490.05" y1="1199.5" x2="1490.05" y2="1193" stroke="#000" stroke-width="3.4" />
<line x1="1599.9" y1="1199.5" x2="1599.9" y2="1193" stroke="#000" stroke-width="3.4" />
<line x1="1709.75" y1="1199.5" x2="1709.75" y2="1193" stroke="#000" stroke-width="3.4" />
<rect x="1160.3" y="738" width="659.1" height="461.5" fill="none" stroke="#000" stroke-width="3.4" />
<text x="1150.2" y="1207.4" font-size="24.5" font-family="'Liberation Sans', 'DejaVu Sans', sans-serif" text-anchor="end" >0</text>
<text x="1157.8" y="1091.95" font-size="24.5" font-family="'Liberation Sans', 'DejaVu Sans', sans-serif" text-anchor="end" >0.5</text>
<text x="1151" y="976.5" font-size="24.5" font-family="'Liberation Sans', 'DejaVu Sans', sans-serif" text-anchor="end" >1</text>
<text x="1156.6" y="861.05" font-size="24.5" font-family="'Liberation Sans', 'DejaVu Sans', sans-serif" text-anchor="end" >1.5</text>
<text x="1149.8" y="745.6" font-size="24.5" font-family="'Liberation Sans', 'DejaVu Sans', sans-serif" text-anchor="end" >2</text>
<text x="1162" y="1222.3" font-size="26.5" font-family="'Liberation Serif', 'Times New Roman', serif" text-anchor="middle" >0</text>
<text x="1269.35" y="1222.3" font-size="26.5" font-family="'Liberation Serif', 'Times New Roman', serif" text-anchor="middle" >5</text>
<text x="1380.2" y="1222.3" font-size="26.5" font-family="'Liberation Serif', 'Times New Roman', serif" text-anchor="middle" >10</text>
<text x="1487.55" y="1222.3" font-size="26.5" font-family="'Liberation Serif', 'Times New Roman', serif" text-anchor="middle" >15</text>
<text x="1598.4" y="1222.3" font-size="26.5" font-family="'Liberation Serif', 'Times New Roman', serif" text-anchor="middle" >20</text>
<text x="1708.95" y="1222.3" font-size="26.5" font-family="'Liberation Serif', 'Times New Roman', serif" text-anchor="middle" >25</text>
<text x="1821.1" y="1222.3" font-size="26.5" font-family="'Liberation Serif', 'Times New Roman', serif" text-anchor="middle" >30</text>
<text x="1434.6" y="1259.7" font-size="36.3" font-family="'Liberation Serif', 'Times New Roman', serif" text-anchor="start" >ω (meV)</text>
<text x="1115.9" y="958.6" font-size="37.4" font-family="'Liberation Serif', 'Times New Roman', serif" text-anchor="middle" transform="rotate(-90 1115.9 958.6)">α<tspan font-size="22" dy="-14">2</tspan><tspan dy="14">F(ω)</tspan></text>
<text x="1161.5" y="713.3" font-size="46" font-family="'Liberation Serif', 'Times New Roman', serif" text-anchor="start" >LaH</text>
<text x="1243" y="727.5" font-size="26" font-family="'Liberation Serif', 'Times New Roman', serif" text-anchor="start" >10</text>
<text x="1358.3" y="728.7" font-size="36" font-family="'Liberation Serif', 'Times New Roman', serif" text-anchor="start" >Eliashberg Function</text>
<rect x="1674.9" y="762.55" width="14.4" height="8.5" fill="#222"/>
<rect x="1692.9" y="762.55" width="14.6" height="8.5" fill="#222"/>
<rect x="1711" y="762.55" width="3.9" height="8.5" fill="#222"/>
<text x="1727.8" y="772.1" font-size="20.5" font-family="'Liberation Serif', 'Times New Roman', serif" text-anchor="start" >0 GPa</text>
<rect x="1674.9" y="786.48" width="40" height="8.5" fill="#ff0000"/>
<text x="1727.8" y="796.5" font-size="20.5" font-family="'Liberation Serif', 'Times New Roman', serif" text-anchor="start" >100 GPa</text>
<rect x="1674.9" y="810.41" width="14.4" height="8.5" fill="#00ff00"/>
<rect x="1692.9" y="810.41" width="14.6" height="8.5" fill="#00ff00"/>
<rect x="1711" y="810.41" width="3.9" height="8.5" fill="#00ff00"/>
<text x="1727.8" y="820.9" font-size="20.5" font-family="'Liberation Serif', 'Times New Roman', serif" text-anchor="start" >200 GPa</text>
<rect x="1674.9" y="834.34" width="40" height="8.5" fill="#0000ff"/>
<text x="1727.8" y="845.3" font-size="20.5" font-family="'Liberation Serif', 'Times New Roman', serif" text-anchor="start" >300 GPa</text>
<rect x="1674.9" y="858.27" width="14.4" height="8.5" fill="#ff00ff"/>
<rect x="1692.9" y="858.27" width="14.6" height="8.5" fill="#ff00ff"/>
<rect x="1711" y="858.27" width="3.9" height="8.5" fill="#ff00ff"/>
<text x="1727.8" y="869.7" font-size="20.5" font-family="'Liberation Serif', 'Times New Roman', serif" text-anchor="start" >500 GPa</text>
</g>
</svg>
</body></html>
